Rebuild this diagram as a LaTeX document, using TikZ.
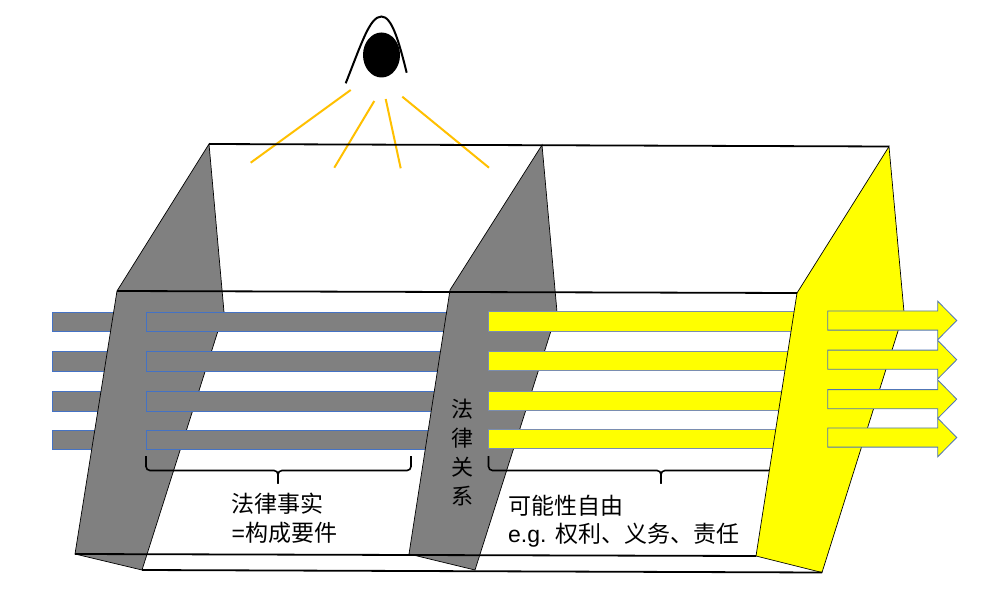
\documentclass[tikz,border=0pt]{standalone}
\usepackage{fontspec}
\newfontfamily\cjk{Noto Sans CJK SC}
\newfontfamily\lat{Liberation Sans}
\definecolor{pgray}{HTML}{808080}
\definecolor{pyellow}{HTML}{FFFF00}
\definecolor{raycol}{HTML}{FFC000}
\definecolor{barline}{HTML}{4472C4}
\definecolor{yelline}{HTML}{7A8DB0}
\begin{document}
\begin{tikzpicture}[x=1pt,y=-1pt,
  panel/.style={line width=0.7pt, draw=black, line join=miter},
  edge/.style={line width=1.8pt, draw=black},
  graybar/.style={fill=pgray, draw=barline, line width=0.8pt},
  yelbar/.style={fill=pyellow, draw=yelline, line width=0.8pt},
  yelarrow/.style={fill=pyellow, draw=barline!80!gray, line width=0.8pt, line join=miter},
  rays/.style={draw=raycol, line width=2pt},
  bracket/.style={draw=black, line width=1.6pt, rounded corners=4pt},
  lbl/.style={font=\cjk\fontsize{23}{29}\selectfont, inner sep=0pt, align=left}]
\useasboundingbox (0,0) rectangle (990,607);
\fill[white] (0,0) rectangle (990,607);

% viewer
\fill[black] (381.5,55) ellipse [x radius=18.5, y radius=22.5];
\draw[line width=2pt] (345.7,83.3) .. controls (362,42) and (370,16.5) .. (381.5,16.5) .. controls (392,16.5) and (399,42) .. (406.7,72.7);
\draw[rays] (350.7,90) -- (250.7,162.7);
\draw[rays] (374.3,101) -- (334.3,167.7);
\draw[rays] (385.7,99) -- (400.7,168.3);
\draw[rays] (402.3,96.7) -- (489,167.7);

% outer left bars
\foreach \t in {312,351.7,391.7,430}{
  \draw[graybar] (52,\t) rectangle (135,\t+19.3);
}
% panel 1
\coordinate (p1a) at (209,144);
\coordinate (p1b) at (224,312);
\coordinate (p1c) at (142,570);
\coordinate (p1d) at (75,554);
\coordinate (p1e) at (117,291);
\filldraw[panel, fill=pgray] (p1a) -- (p1b) -- (p1c) -- (p1d) -- (p1e) -- cycle;
% inner gray bars
\foreach \t in {312,351.7,391.7,430}{
  \draw[graybar] (146,\t) rectangle (472,\t+19.3);
}
% panel 2
\coordinate (p2a) at (542,145);
\coordinate (p2b) at (557,312);
\coordinate (p2c) at (475,570);
\coordinate (p2d) at (409,554);
\coordinate (p2e) at (450,290);
\filldraw[panel, fill=pgray] (p2a) -- (p2b) -- (p2c) -- (p2d) -- (p2e) -- cycle;
% yellow bars
\foreach \t in {311.8,351.3,391.2,429.6}{
  \draw[yelbar] (488.5,\t) rectangle (805,\t+19.2);
}
% brackets
\draw[bracket] (146,456) -- (146,470.5) -- (278,470.5) -- (278,483.5);
\draw[bracket] (411,456) -- (411,470.5) -- (278,470.5) -- (278,483.5);
\draw[bracket] (488.5,456) -- (488.5,470.5) -- (661,470.5) -- (661,483.5);
\draw[bracket] (834,456) -- (834,470.5) -- (661,470.5) -- (661,483.5);
% panel 3
\coordinate (p3a) at (889,146.5);
\coordinate (p3b) at (904,312);
\coordinate (p3c) at (822,572.5);
\coordinate (p3d) at (756,556);
\coordinate (p3e) at (797,293);
\filldraw[panel, fill=pyellow] (p3a) -- (p3b) -- (p3c) -- (p3d) -- (p3e) -- cycle;
% right arrows
\foreach \c in {320.5,359.7,399.2,437.5}{
  \draw[yelarrow] (827.7,\c-9.6) -- (937.7,\c-9.6) -- (937.7,\c-19.3) -- (956.7,\c)
     -- (937.7,\c+19.3) -- (937.7,\c+9.6) -- (827.7,\c+9.6) -- cycle;
}
% box edges
\draw[edge] (p1a) -- (p3a);
\draw[edge] (p1e) -- (p3e);
\draw[edge] (p1d) -- (p3d);
\draw[edge] (p1c) -- (p3c);

% texts
\node[lbl, anchor=west] (fact) at (231.5,518.3) {法律事实\\{\lat =}构成要件};
\node[lbl, anchor=west, font=\cjk\fontsize{23}{28}\selectfont] (free) at (508,521.3) {可能性自由\\{\lat e.g. }权利、义务、责任};
\node[lbl, align=center, font=\cjk\fontsize{22}{28.7}\selectfont] (rel) at (462.5,452.5) {法\\律\\关\\系};
\end{tikzpicture}
\end{document}
